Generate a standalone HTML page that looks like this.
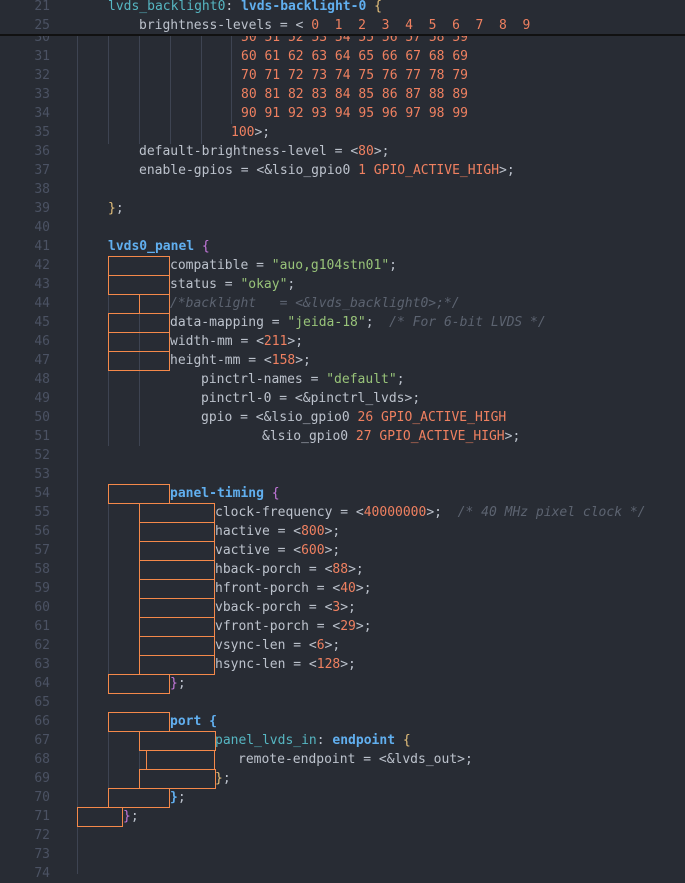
<!DOCTYPE html><html><head><style>
body{margin:0;width:685px;height:874px;background:#282c34;overflow:hidden;position:relative;font-family:"DejaVu Sans Mono","Liberation Mono",monospace;font-size:13px}
.n{position:absolute;width:50px;text-align:right;color:#4b5263;left:0;line-height:19px}
.l{position:absolute;white-space:pre;color:#bcc2cc;line-height:19px}
.g{position:absolute;width:1px;background:#3e4452}
.b{position:absolute;border:1px solid #f5894a;box-sizing:border-box}
.o{color:#ef8060}.s{color:#98c379}.c{color:#5c6370;font-style:italic}.t{color:#56b6c2}.k{color:#61afef;font-weight:bold}.p{color:#c678dd}.y{color:#e5c07b}
#hd{position:absolute;left:0;top:0;width:685px;height:34px;background:#282c34;border-bottom:2px solid #111;z-index:5}
</style></head><body>
<div class="g" style="left:77px;top:34px;height:840px"></div>
<div class="g" style="left:108px;top:34px;height:110px"></div>
<div class="g" style="left:139px;top:34px;height:110px"></div>
<div class="g" style="left:170px;top:34px;height:110px"></div>
<div class="g" style="left:201px;top:34px;height:110px"></div>
<div class="g" style="left:231px;top:34px;height:90px"></div>
<div class="g" style="left:108px;top:256px;height:190px"></div>
<div class="g" style="left:139px;top:294px;height:152px"></div>
<div class="g" style="left:108px;top:503px;height:180px"></div>
<div class="g" style="left:108px;top:731px;height:60px"></div>
<div class="g" style="left:139px;top:750px;height:20px"></div>
<div id="hd">
<div class="n" style="top:-3px">21</div><div class="l" style="left:108px;top:-3px"><span class="t">lvds_backlight0</span>: <span class="k">lvds-backlight-0</span> <span class="y">{</span></div>
<div class="n" style="top:16px">25</div><div class="l" style="left:139px;top:16px">brightness-levels = &lt; <span class="o">0  1  2  3  4  5  6  7  8  9</span></div>
</div>
<div class="n" style="top:28px">30</div><div class="l o" style="left:241px;top:28px">50 51 52 53 54 55 56 57 58 59</div>
<div class="n" style="top:47px">31</div><div class="l o" style="left:241px;top:47px">60 61 62 63 64 65 66 67 68 69</div>
<div class="n" style="top:66px">32</div><div class="l o" style="left:241px;top:66px">70 71 72 73 74 75 76 77 78 79</div>
<div class="n" style="top:85px">33</div><div class="l o" style="left:241px;top:85px">80 81 82 83 84 85 86 87 88 89</div>
<div class="n" style="top:104px">34</div><div class="l o" style="left:241px;top:104px">90 91 92 93 94 95 96 97 98 99</div>
<div class="n" style="top:123px">35</div><div class="l" style="left:231px;top:123px"><span class="o">100</span>&gt;;</div>
<div class="n" style="top:142px">36</div><div class="l" style="left:139px;top:142px">default-brightness-level = &lt;<span class="o">80</span>&gt;;</div>
<div class="n" style="top:161px">37</div><div class="l" style="left:139px;top:161px">enable-gpios = &lt;&amp;lsio_gpio0 <span class="o">1 GPIO_ACTIVE_HIGH</span>&gt;;</div>
<div class="n" style="top:180px">38</div>
<div class="n" style="top:199px">39</div><div class="l" style="left:108px;top:199px"><span class="y">}</span>;</div>
<div class="n" style="top:218px">40</div>
<div class="n" style="top:237px">41</div><div class="l" style="left:108px;top:237px"><span class="k">lvds0_panel</span> <span class="p">{</span></div>
<div class="n" style="top:256px">42</div><div class="l" style="left:170px;top:256px">compatible = <span class="s">"auo,g104stn01"</span>;</div>
<div class="n" style="top:275px">43</div><div class="l" style="left:170px;top:275px">status = <span class="s">"okay"</span>;</div>
<div class="n" style="top:294px">44</div><div class="l c" style="left:170px;top:294px">/*backlight   = &lt;&amp;lvds_backlight0&gt;;*/</div>
<div class="n" style="top:313px">45</div><div class="l" style="left:170px;top:313px">data-mapping = <span class="s">"jeida-18"</span>;  <span class="c">/* For 6-bit LVDS */</span></div>
<div class="n" style="top:332px">46</div><div class="l" style="left:170px;top:332px">width-mm = &lt;<span class="o">211</span>&gt;;</div>
<div class="n" style="top:351px">47</div><div class="l" style="left:170px;top:351px">height-mm = &lt;<span class="o">158</span>&gt;;</div>
<div class="n" style="top:370px">48</div><div class="l" style="left:201px;top:370px">pinctrl-names = <span class="s">"default"</span>;</div>
<div class="n" style="top:389px">49</div><div class="l" style="left:201px;top:389px">pinctrl-0 = &lt;&amp;pinctrl_lvds&gt;;</div>
<div class="n" style="top:408px">50</div><div class="l" style="left:201px;top:408px">gpio = &lt;&amp;lsio_gpio0 <span class="o">26 GPIO_ACTIVE_HIGH</span></div>
<div class="n" style="top:427px">51</div><div class="l" style="left:262px;top:427px">&amp;lsio_gpio0 <span class="o">27 GPIO_ACTIVE_HIGH</span>&gt;;</div>
<div class="n" style="top:446px">52</div>
<div class="n" style="top:465px">53</div>
<div class="n" style="top:484px">54</div><div class="l" style="left:170px;top:484px"><span class="k">panel-timing</span> <span class="p">{</span></div>
<div class="n" style="top:503px">55</div><div class="l" style="left:215px;top:503px">clock-frequency = &lt;<span class="o">40000000</span>&gt;;  <span class="c">/* 40 MHz pixel clock */</span></div>
<div class="n" style="top:522px">56</div><div class="l" style="left:215px;top:522px">hactive = &lt;<span class="o">800</span>&gt;;</div>
<div class="n" style="top:541px">57</div><div class="l" style="left:215px;top:541px">vactive = &lt;<span class="o">600</span>&gt;;</div>
<div class="n" style="top:560px">58</div><div class="l" style="left:215px;top:560px">hback-porch = &lt;<span class="o">88</span>&gt;;</div>
<div class="n" style="top:579px">59</div><div class="l" style="left:215px;top:579px">hfront-porch = &lt;<span class="o">40</span>&gt;;</div>
<div class="n" style="top:598px">60</div><div class="l" style="left:215px;top:598px">vback-porch = &lt;<span class="o">3</span>&gt;;</div>
<div class="n" style="top:617px">61</div><div class="l" style="left:215px;top:617px">vfront-porch = &lt;<span class="o">29</span>&gt;;</div>
<div class="n" style="top:636px">62</div><div class="l" style="left:215px;top:636px">vsync-len = &lt;<span class="o">6</span>&gt;;</div>
<div class="n" style="top:655px">63</div><div class="l" style="left:215px;top:655px">hsync-len = &lt;<span class="o">128</span>&gt;;</div>
<div class="n" style="top:674px">64</div><div class="l" style="left:170px;top:674px"><span class="p">}</span>;</div>
<div class="n" style="top:693px">65</div>
<div class="n" style="top:712px">66</div><div class="l" style="left:170px;top:712px"><span class="k">port</span> <span class="k">{</span></div>
<div class="n" style="top:731px">67</div><div class="l" style="left:215px;top:731px"><span class="t">panel_lvds_in</span>: <span class="k">endpoint</span> <span class="y">{</span></div>
<div class="n" style="top:750px">68</div><div class="l" style="left:238px;top:750px">remote-endpoint = &lt;&amp;lvds_out&gt;;</div>
<div class="n" style="top:769px">69</div><div class="l" style="left:215px;top:769px"><span class="y">}</span>;</div>
<div class="n" style="top:788px">70</div><div class="l" style="left:170px;top:788px"><span class="k">}</span>;</div>
<div class="n" style="top:807px">71</div><div class="l" style="left:123px;top:807px"><span class="p">}</span>;</div>
<div class="n" style="top:826px">72</div>
<div class="n" style="top:845px">73</div>
<div class="n" style="top:864px">74</div>
<div class="b" style="left:108px;top:256px;width:62px;height:20px"></div>
<div class="b" style="left:108px;top:275px;width:62px;height:20px"></div>
<div class="b" style="left:139px;top:294px;width:31px;height:20px"></div>
<div class="b" style="left:108px;top:313px;width:62px;height:20px"></div>
<div class="b" style="left:108px;top:332px;width:62px;height:20px"></div>
<div class="b" style="left:108px;top:351px;width:62px;height:20px"></div>
<div class="b" style="left:108px;top:484px;width:62px;height:20px"></div>
<div class="b" style="left:139px;top:503px;width:76px;height:20px"></div>
<div class="b" style="left:139px;top:522px;width:76px;height:20px"></div>
<div class="b" style="left:139px;top:541px;width:76px;height:20px"></div>
<div class="b" style="left:139px;top:560px;width:76px;height:20px"></div>
<div class="b" style="left:139px;top:579px;width:76px;height:20px"></div>
<div class="b" style="left:139px;top:598px;width:76px;height:20px"></div>
<div class="b" style="left:139px;top:617px;width:76px;height:20px"></div>
<div class="b" style="left:139px;top:636px;width:76px;height:20px"></div>
<div class="b" style="left:139px;top:655px;width:76px;height:20px"></div>
<div class="b" style="left:108px;top:674px;width:62px;height:20px"></div>
<div class="b" style="left:108px;top:712px;width:62px;height:20px"></div>
<div class="b" style="left:139px;top:731px;width:77px;height:20px"></div>
<div class="b" style="left:146px;top:750px;width:69px;height:20px"></div>
<div class="b" style="left:139px;top:769px;width:77px;height:20px"></div>
<div class="b" style="left:108px;top:788px;width:62px;height:20px"></div>
<div class="b" style="left:77px;top:807px;width:46px;height:20px"></div>
</body></html>
